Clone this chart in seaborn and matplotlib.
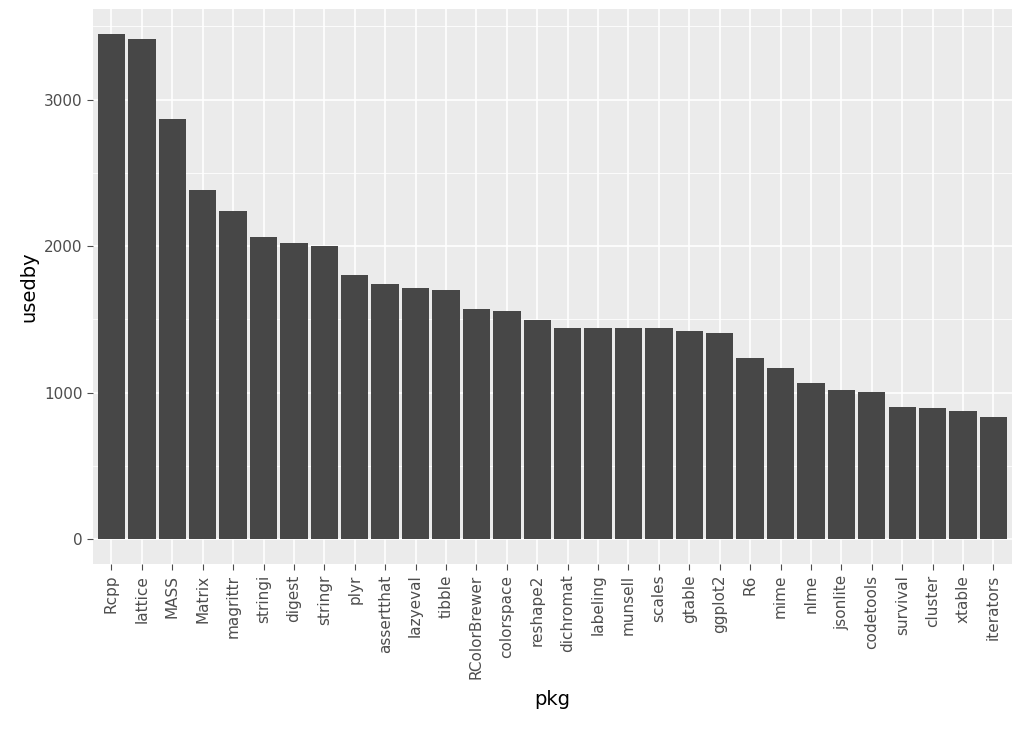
import matplotlib
matplotlib.use("Agg")
import matplotlib.pyplot as plt
import seaborn as sns
import pandas as pd

pkg = ["Rcpp","lattice","MASS","Matrix","magrittr","stringi","digest","stringr","plyr",
       "assertthat","lazyeval","tibble","RColorBrewer","colorspace","reshape2","dichromat",
       "labeling","munsell","scales","gtable","ggplot2","R6","mime","nlme","jsonlite",
       "codetools","survival","cluster","xtable","iterators"]
usedby = [3445,3411,2870,2385,2240,2062,2021,2003,1801,1740,1712,1699,1568,1555,1493,1443,
          1442,1439,1439,1420,1405,1237,1170,1065,1018,1003,905,893,877,836]

df = pd.DataFrame({"pkg": pkg, "usedby": usedby})

fig = plt.figure(figsize=(10.24, 7.31), dpi=100)
ax = fig.add_axes([0.091, 0.228, 0.897, 0.76])
ax.set_facecolor("#EBEBEB")
sns.barplot(data=df, x="pkg", y="usedby", color="#474747", width=0.9, ax=ax, saturation=1)
ax.set_xlim(-0.6, len(pkg) - 0.4)
ax.set_ylim(-172, 3620)
ax.set_yticks([0, 1000, 2000, 3000])
ax.set_yticks([500, 1500, 2500, 3500], minor=True)
ax.grid(True, which="major", color="white", linewidth=1.2)
ax.grid(True, which="minor", axis="y", color="white", linewidth=0.6)
ax.set_axisbelow(True)
for s in ax.spines.values():
    s.set_visible(False)
ax.tick_params(axis="x", rotation=90, labelsize=11, colors="#4D4D4D", length=4)
ax.tick_params(axis="y", labelsize=11, colors="#4D4D4D", length=4)
ax.tick_params(which="minor", length=0)
for t in ax.get_xticklabels() + ax.get_yticklabels():
    t.set_color("#4D4D4D")
ax.set_xlabel("pkg", fontsize=14, labelpad=8)
ax.set_ylabel("usedby", fontsize=14)
fig.savefig("out.png")
